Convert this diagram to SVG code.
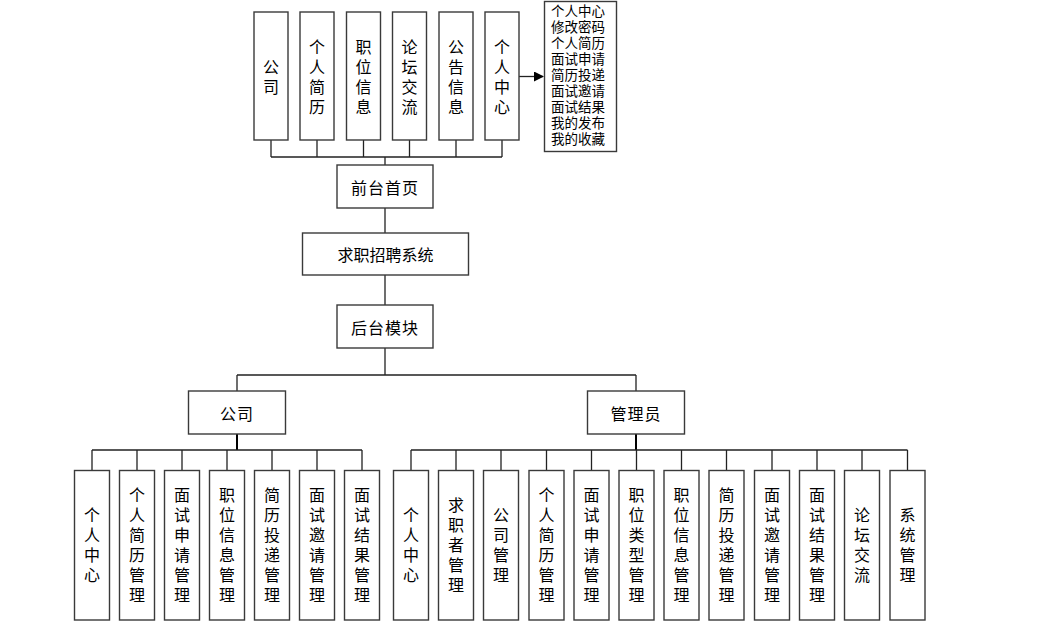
<svg xmlns="http://www.w3.org/2000/svg" width="1063" height="625" viewBox="0 0 1063 625">
<defs>
<style>
.box{fill:#fff;stroke:#3a3a3a;stroke-width:1.4}
.t{font-family:"Noto Sans CJK SC","Noto Sans CJK JP",sans-serif;font-size:16px;fill:#000;text-anchor:middle;dominant-baseline:central}
.v{font-family:"Noto Sans CJK SC","Noto Sans CJK JP",sans-serif;font-size:16px;fill:#000;text-anchor:middle;writing-mode:vertical-rl;letter-spacing:4px}
.lt{font-family:"Liberation Sans","Noto Sans CJK SC","Noto Sans CJK JP",sans-serif;font-size:13.5px;fill:#000}
.c{fill:none;stroke:#222;stroke-width:1.3}
.cb{fill:none;stroke:#000;stroke-width:2}
</style>
<marker id="arr" markerWidth="10" markerHeight="10" refX="9" refY="5" orient="auto" markerUnits="userSpaceOnUse">
<path d="M0,0 L10,5 L0,10 Z" fill="#000"/>
</marker>
</defs>
<rect width="1063" height="625" fill="#fff"/>
<g id="connectors">
<path class="c" d="M271,140V157M317,140V157M363.5,140V157M409.5,140V157M456,140V157M502,140V157M271,157H502M385,157V165"/>
<path class="c" d="M519,76.5H543" marker-end="url(#arr)"/>
<path class="c" d="M385,208V233M385,275V305M385,348V375M237,375H636M237,375V391M636,375V391"/>
<path class="cb" d="M237,434V450M636,434V450"/>
<path class="c" d="M92,450H362M92,450V471M137,450V471M182,450V471M227,450V471M272,450V471M317,450V471M362,450V471"/>
<path class="c" d="M411,450H907.5M411,450V471M456,450V471M501,450V471M546.5,450V471M591.5,450V471M636.5,450V471M681.5,450V471M726.5,450V471M772,450V471M817,450V471M862,450V471M907.5,450V471"/>
</g>
<g id="top-company"><rect class="box" x="254" y="12" width="34" height="128"/><text class="v" x="271" y="78.5">公司</text></g>
<g id="top-resume"><rect class="box" x="300" y="12" width="34" height="128"/><text class="v" x="317" y="78.5">个人简历</text></g>
<g id="top-job"><rect class="box" x="346.5" y="12" width="34" height="128"/><text class="v" x="363.5" y="78.5">职位信息</text></g>
<g id="top-forum"><rect class="box" x="392.5" y="12" width="34" height="128"/><text class="v" x="409.5" y="78.5">论坛交流</text></g>
<g id="top-notice"><rect class="box" x="439" y="12" width="34" height="128"/><text class="v" x="456" y="78.5">公告信息</text></g>
<g id="top-personal"><rect class="box" x="485" y="12" width="34" height="128"/><text class="v" x="502" y="78.5">个人中心</text></g>
<g id="personal-list"><rect class="box" x="544.5" y="1.5" width="72" height="150"/>
<text class="lt"><tspan x="551" y="15.5">个人中心</tspan><tspan x="551" y="31.5">修改密码</tspan><tspan x="551" y="47.5">个人简历</tspan><tspan x="551" y="63.5">面试申请</tspan><tspan x="551" y="79.5">简历投递</tspan><tspan x="551" y="95.5">面试邀请</tspan><tspan x="551" y="111.5">面试结果</tspan><tspan x="551" y="127.5">我的发布</tspan><tspan x="551" y="143.5">我的收藏</tspan></text></g>
<g id="frontend"><rect class="box" x="337" y="165" width="96" height="43"/><text class="t" x="385" y="186.5" letter-spacing="1">前台首页</text></g>
<g id="system"><rect class="box" x="302.5" y="233" width="166" height="42"/><text class="t" x="385.5" y="254">求职招聘系统</text></g>
<g id="backend"><rect class="box" x="337" y="305" width="96" height="43"/><text class="t" x="385" y="326.5" letter-spacing="1">后台模块</text></g>
<g id="company"><rect class="box" x="188.5" y="391" width="97" height="43"/><text class="t" x="237" y="412.5" letter-spacing="1">公司</text></g>
<g id="admin"><rect class="box" x="587.5" y="391" width="97" height="43"/><text class="t" x="636" y="412.5" letter-spacing="1">管理员</text></g>
<g id="c-personal"><rect class="box" x="74.5" y="470.5" width="35" height="149.5"/><text class="v" x="92" y="547">个人中心</text></g>
<g id="c-resume"><rect class="box" x="119.5" y="470.5" width="35" height="149.5"/><text class="v" x="137" y="547">个人简历管理</text></g>
<g id="c-apply"><rect class="box" x="164.5" y="470.5" width="35" height="149.5"/><text class="v" x="182" y="547">面试申请管理</text></g>
<g id="c-job"><rect class="box" x="209.5" y="470.5" width="35" height="149.5"/><text class="v" x="227" y="547">职位信息管理</text></g>
<g id="c-deliver"><rect class="box" x="254.5" y="470.5" width="35" height="149.5"/><text class="v" x="272" y="547">简历投递管理</text></g>
<g id="c-invite"><rect class="box" x="299.5" y="470.5" width="35" height="149.5"/><text class="v" x="317" y="547">面试邀请管理</text></g>
<g id="c-result"><rect class="box" x="344.5" y="470.5" width="35" height="149.5"/><text class="v" x="362" y="547">面试结果管理</text></g>
<g id="a-personal"><rect class="box" x="393.5" y="470.5" width="35" height="149.5"/><text class="v" x="411" y="547">个人中心</text></g>
<g id="a-seeker"><rect class="box" x="438.5" y="470.5" width="35" height="149.5"/><text class="v" x="456" y="547">求职者管理</text></g>
<g id="a-company"><rect class="box" x="483.5" y="470.5" width="35" height="149.5"/><text class="v" x="501" y="547">公司管理</text></g>
<g id="a-resume"><rect class="box" x="529" y="470.5" width="35" height="149.5"/><text class="v" x="546.5" y="547">个人简历管理</text></g>
<g id="a-apply"><rect class="box" x="574" y="470.5" width="35" height="149.5"/><text class="v" x="591.5" y="547">面试申请管理</text></g>
<g id="a-jobtype"><rect class="box" x="619" y="470.5" width="35" height="149.5"/><text class="v" x="636.5" y="547">职位类型管理</text></g>
<g id="a-job"><rect class="box" x="664" y="470.5" width="35" height="149.5"/><text class="v" x="681.5" y="547">职位信息管理</text></g>
<g id="a-deliver"><rect class="box" x="709" y="470.5" width="35" height="149.5"/><text class="v" x="726.5" y="547">简历投递管理</text></g>
<g id="a-invite"><rect class="box" x="754.5" y="470.5" width="35" height="149.5"/><text class="v" x="772" y="547">面试邀请管理</text></g>
<g id="a-result"><rect class="box" x="799.5" y="470.5" width="35" height="149.5"/><text class="v" x="817" y="547">面试结果管理</text></g>
<g id="a-forum"><rect class="box" x="844.5" y="470.5" width="35" height="149.5"/><text class="v" x="862" y="547">论坛交流</text></g>
<g id="a-system"><rect class="box" x="890" y="470.5" width="35" height="149.5"/><text class="v" x="907.5" y="547">系统管理</text></g>
</svg>
